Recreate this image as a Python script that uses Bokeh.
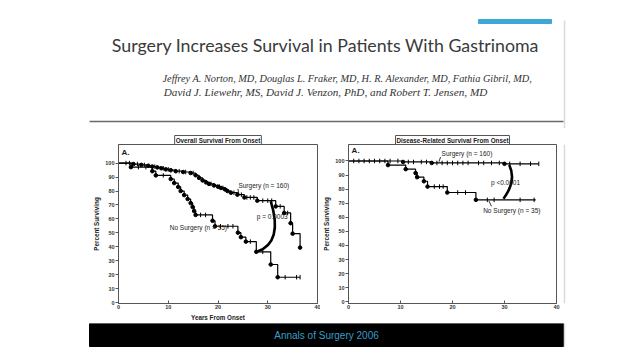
import numpy as np
from bokeh.plotting import figure
from bokeh.models import Range1d, Label
from bokeh.layouts import column, row
from bokeh.embed import file_html
from bokeh.resources import INLINE

# ---------------- data ----------------
x_ticks = [0, 10, 20, 30, 40]
y_ticks = [0, 10, 20, 30, 40, 50, 60, 70, 80, 90, 100]

# Overall survival from onset
os_surg_t = [0, 3.0, 4.6, 6.0, 6.8, 7.8, 8.6, 9.5, 10.5, 11.5, 13.0, 14.5, 15.5, 16.2,
             16.9, 17.6, 18.2, 19.2, 20.0, 20.6, 21.4, 21.9, 22.6, 23.9, 25.3, 27.9,
             31.6, 33.3, 34.6, 35.0, 36.5]
os_surg_s = [100, 99.3, 98.7, 98.1, 97.5, 96.9, 96.3, 95.5, 94.9, 94.2, 93.6, 92.9, 91.3,
             89.4, 87.6, 86.2, 85.1, 84.0, 83.1, 82.2, 81.2, 80.0, 78.8, 77.4, 75.4, 73.1,
             69.0, 64.3, 57.0, 49.5, 39.5]
os_surg_end = 36.6
os_surg_cens = [1.5, 2.2, 3.8, 5.2, 7.3, 9.0, 10.0, 12.2, 13.5, 15.0, 18.6, 20.3, 21.0,
                23.2, 24.7, 25.8, 26.5, 27.2, 29.0, 30.0, 30.8, 32.5, 34.0]

os_nos_t = [0, 2.5, 6.8, 7.5, 10.5, 11.2, 12.0, 12.5, 13.2, 13.9, 14.5, 14.9, 15.2, 15.5,
            18.9, 19.4, 24.0, 24.6, 25.6, 27.7, 30.6, 32.0]
os_nos_s = [100, 97.1, 94.2, 91.2, 88.6, 85.7, 82.9, 80.0, 77.1, 74.3, 71.4, 68.6, 65.7,
            62.9, 58.7, 54.8, 50.2, 47.0, 43.8, 36.5, 27.4, 18.3]
os_nos_end = 36.5
os_nos_cens = [4.0, 5.5, 9.0, 16.5, 17.5, 20.5, 22.0, 23.0, 26.5, 29.0, 33.5, 35.8, 36.5]

# Disease-related survival from onset
dr_surg_t = [0, 10.5, 16.0, 30.0]
dr_surg_s = [100, 99.3, 98.6, 98.0]
dr_surg_end = 36.6
dr_surg_cens = [1, 2, 3, 4, 5, 6, 7, 8, 9.5, 11.5, 12.5, 14, 15, 17, 18, 19, 20, 21, 22,
                23, 25, 26, 27.5, 29, 31, 33, 35, 36.6]

dr_nos_t = [0, 7.6, 11.0, 12.9, 13.2, 14.5, 15.2, 19.0, 24.5]
dr_nos_s = [100, 97.1, 94.2, 91.4, 88.5, 85.6, 81.8, 77.6, 72.4]
dr_nos_end = 36.0
dr_nos_cens = [16.5, 17.5, 18.2, 21.0, 22.5, 26.7, 28.0, 33.0, 35.7]

CH_FONT = "Liberation Sans"


def level_at(t, s, c):
    t = np.asarray(t)
    s = np.asarray(s)
    idx = np.searchsorted(t, np.asarray(c), side="right") - 1
    return s[idx]


def km(p, t, s, end, cens):
    xs = list(t) + [end]
    ys = list(s) + [s[-1]]
    p.step(xs, ys, mode="after", line_color="black", line_width=1.2)
    p.scatter(t[1:], s[1:], size=3.6, color="black")
    p.scatter(cens, level_at(t, s, cens), marker="dash", angle=np.pi / 2, size=4.5,
              line_color="black", line_width=1)


def lbl(p, x, y, text, size="6.5px", style="normal"):
    p.add_layout(Label(x=x, y=y, text=text, text_font=CH_FONT, text_font_size=size,
                       text_font_style=style, text_color="#1a1a1a",
                       text_baseline="middle", text_align="left"))


def chart(width, height, mbl, mbr, mbt, mbb, y0, y1, title, xlabel):
    p = figure(width=width, height=height, x_range=Range1d(0, 40), y_range=Range1d(y0, y1),
               output_backend="svg", toolbar_location=None, title=title,
               min_border_left=mbl, min_border_right=mbr, min_border_top=mbt,
               min_border_bottom=mbb)
    p.title.align = "center"
    p.title.standoff = 0
    p.title.offset = 0
    p.title.text_font = CH_FONT
    p.title.text_font_size = "6.3px"
    p.title.text_font_style = "bold"
    p.title.text_color = "#1a1a1a"
    p.title.border_line_color = "#555555"
    p.title.border_line_width = 1
    p.title.background_fill_color = "white"
    p.title.padding = 1
    p.grid.visible = False
    p.outline_line_color = "#555555"
    p.outline_line_width = 1
    p.background_fill_color = "white"
    p.border_fill_color = "white"
    p.xaxis.ticker = x_ticks
    p.yaxis.ticker = y_ticks
    p.axis.axis_line_color = "#555555"
    p.axis.major_tick_line_color = "#555555"
    p.axis.minor_tick_line_color = None
    p.xaxis.major_tick_in = 3
    p.xaxis.major_tick_out = 0
    p.yaxis.major_tick_in = 0
    p.yaxis.major_tick_out = 3
    p.axis.major_label_standoff = 1
    p.axis.major_label_text_font = CH_FONT
    p.axis.major_label_text_font_size = "5.5px"
    p.axis.major_label_text_font_style = "bold"
    p.axis.major_label_text_color = "#333333"
    p.axis.axis_label_text_font = CH_FONT
    p.axis.axis_label_text_font_size = "6.3px"
    p.axis.axis_label_text_font_style = "bold"
    p.axis.axis_label_text_color = "#222222"
    p.axis.axis_label_standoff = 2
    p.yaxis.axis_label = "Percent Surviving"
    if xlabel:
        p.xaxis.axis_label = xlabel
    return p


# ---------------- left chart ----------------
left = chart(320, 195, 118, 3, 16, 19, -0.5, 113.3, "Overall Survival From Onset",
             "Years From Onset")
km(left, os_surg_t, os_surg_s, os_surg_end, os_surg_cens)
km(left, os_nos_t, os_nos_s, os_nos_end, os_nos_cens)
lbl(left, 0.6, 107.6, "A.", size="8px", style="bold")
lbl(left, 24.1, 84.3, "Surgery (n = 160)")
lbl(left, 10.3, 53.6, "No Surgery (n = 35)")
lbl(left, 27.8, 62.0, "p = 0.0003")
left.segment([24.0], [81.6], [24.2], [77.6], line_color="black", line_width=0.8)
left.quadratic([27.8], [36.5], [30.6], [72.8], [33.2], [43.0], line_color="black",
               line_width=2.6)

# ---------------- right chart ----------------
right = chart(240, 195, 27, 4, 16, 11, -1.2, 111.7, "Disease-Related Survival From Onset",
              None)
km(right, dr_surg_t, dr_surg_s, dr_surg_end, dr_surg_cens)
km(right, dr_nos_t, dr_nos_s, dr_nos_end, dr_nos_cens)
lbl(right, 0.6, 107.2, "A.", size="8px", style="bold")
lbl(right, 17.9, 105.0, "Surgery (n = 160)")
lbl(right, 25.9, 64.6, "No Surgery (n = 35)")
lbl(right, 27.4, 84.9, "p <0.0001")
right.segment([17.7], [102.8], [17.4], [99.4], line_color="black", line_width=0.8)
right.segment([27.0], [71.6], [27.5], [67.8], line_color="black", line_width=0.8)
right.quadratic([30.9], [97.2], [29.8], [73.2], [32.4], [86.0], line_color="black",
                line_width=2.6)


# ---------------- slide decoration ----------------
def deco(width, height, x0, x1, ytop, ybot):
    p = figure(width=width, height=height, x_range=Range1d(x0, x1),
               y_range=Range1d(ybot, ytop), output_backend="svg", toolbar_location=None,
               title=None, min_border=0)
    p.axis.visible = False
    p.grid.visible = False
    p.outline_line_color = None
    p.background_fill_color = "white"
    p.border_fill_color = "white"
    return p


header = deco(630, 128, 0, 630, 0, 128)
header.quad(left=[478], right=[551], top=[19], bottom=[23], color="#3ea7d8")
header.segment([564], [20], [564], [128], line_color="#dadada", line_width=1.5)
header.segment([89], [121], [563], [121], line_color="#6a6a6a", line_width=1.5)
header.add_layout(Label(x=325, y=44, text="Surgery Increases Survival in Patients With Gastrinoma",
                        text_font="Lato", text_font_size="17.8px", text_color="#3a3a3a",
                        text_align="center", text_baseline="middle"))
header.add_layout(Label(x=162, y=78,
                        text="Jeffrey A. Norton, MD, Douglas L. Fraker, MD, H. R. Alexander, MD, Fathia Gibril, MD,",
                        text_font="Liberation Serif", text_font_size="10.3px",
                        text_font_style="italic", text_color="#333333",
                        text_align="left", text_baseline="middle"))
header.add_layout(Label(x=325, y=91,
                        text="David J. Liewehr, MS, David J. Venzon, PhD, and Robert T. Jensen, MD",
                        text_font="Liberation Serif", text_font_size="11.2px",
                        text_font_style="italic", text_color="#333333",
                        text_align="center", text_baseline="middle"))

strip = deco(70, 195, 560, 630, 128, 323)
strip.segment([564], [128], [564], [323], line_color="#dadada", line_width=1.5)

footer = deco(630, 28, 0, 630, 323, 351)
footer.quad(left=[89], right=[563], top=[323], bottom=[346], color="black")
footer.segment([564], [323], [564], [346], line_color="#dadada", line_width=1.5)
footer.add_layout(Label(x=326, y=335, text="Annals of Surgery 2006", text_font="Liberation Sans",
                        text_font_size="10px", text_color="#3b9cc9", text_align="center",
                        text_baseline="middle"))

layout = column(header, row(left, right, strip), footer)

open("out.html", "w").write(file_html(layout, INLINE))
